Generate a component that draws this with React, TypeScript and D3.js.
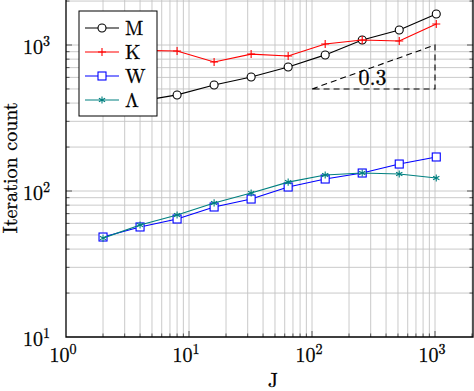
import React from 'react';
import * as d3 from 'd3';

// problem sizes J (powers of two)
const J = [2, 4, 8, 16, 32, 64, 128, 256, 512, 1024];

// iteration counts per method
const seriesM = [382, 413, 455, 532, 604, 707, 855, 1082, 1267, 1630];
const seriesK = [930, 920, 910, 765, 867, 841, 1016, 1082, 1065, 1393];
const seriesW = [48.4, 56.7, 64.3, 77.7, 88.1, 106.5, 120.8, 132.8, 153, 171];
const seriesL = [47.6, 58.5, 68.5, 82.8, 96.9, 115, 128.7, 132.8, 130.7, 122.8];

const seriesNames = ['M', 'K', 'W', 'Λ'];
const seriesColors = ['#000000', '#ff0000', '#0000ff', '#008080'];
const seriesMarks = ['circle', 'plus', 'square', 'star'];

const xTickExp = [0, 1, 2, 3];
const yTickExp = [1, 2, 3];

// slope triangle corners (J, count)
const triStart = [100, 500];
const triEnd = [1000, 1000];
const triLabel = '0.3';

const TXT = { fontFamily: "'Latin Modern Roman'", stroke: '#000', strokeWidth: 0.3 };

function Marker({ type, x, y, color }: { type: string; x: number; y: number; color: string }) {
  if (type === 'circle') return <circle cx={x} cy={y} r={4} fill="#fff" stroke={color} strokeWidth={1.1} />;
  if (type === 'square') return <rect x={x - 4} y={y - 4} width={8} height={8} fill="#fff" stroke={color} strokeWidth={1.1} />;
  if (type === 'plus')
    return (
      <path d={`M${x - 4},${y}H${x + 4}M${x},${y - 4}V${y + 4}`} stroke={color} strokeWidth={1.1} />
    );
  // asterisk
  const r = 3.6;
  const parts = [90, 30, -30].map(a => {
    const rad = (a * Math.PI) / 180;
    const dx = r * Math.cos(rad), dy = r * Math.sin(rad);
    return `M${x - dx},${y - dy}L${x + dx},${y + dy}`;
  });
  return <path d={parts.join('')} stroke={color} strokeWidth={1.1} />;
}

export default function App() {
  const x = d3.scaleLog().domain([1, 1000]).range([66, 435]);
  const y = d3.scaleLog().domain([10, 1000]).range([337, 45]);
  const left = 66, bottom = 337, right = 473, top = -1;
  const xMax = x.invert(right);
  const yMax = y.invert(top);

  const xGrid: number[] = [];
  for (let e = 0; e <= 3; e++) for (let m = 1; m <= 9; m++) { const v = m * 10 ** e; if (v > 1 && v < xMax) xGrid.push(v); }
  const yGrid: number[] = [];
  for (let e = 1; e <= 3; e++) for (let m = 1; m <= 9; m++) { const v = m * 10 ** e; if (v > 10 && v < yMax) yGrid.push(v); }

  const isMajor = (v: number) => Math.abs(Math.log10(v) - Math.round(Math.log10(v))) < 1e-9;

  const data = [seriesM, seriesK, seriesW, seriesL];
  const line = d3.line<[number, number]>().x(d => x(d[0])).y(d => y(d[1]));

  const lg = { x: 79, y: 11, w: 78, h: 105 };
  const lgRows = [28, 52, 76, 100];

  return (
    <svg width={474} height={391} style={{ position: 'absolute', left: 0, top: 0, background: '#fff' }}>
      {/* grid */}
      <g stroke="#c4c4c4" strokeWidth={0.9}>
        {xGrid.map(v => <line key={'gx' + v} x1={x(v)} x2={x(v)} y1={top} y2={bottom} />)}
        {yGrid.map(v => <line key={'gy' + v} x1={left} x2={right} y1={y(v)} y2={y(v)} />)}
      </g>
      {/* ticks */}
      <g stroke="#333" strokeWidth={0.8}>
        {xGrid.map(v => {
          const len = isMajor(v) ? 6 : 3.5;
          return <line key={'tx' + v} x1={x(v)} x2={x(v)} y1={bottom} y2={bottom - len} />;
        })}
        {yGrid.map(v => {
          const len = isMajor(v) ? 6 : 3.5;
          return (
            <g key={'ty' + v}>
              <line x1={left} x2={left + len} y1={y(v)} y2={y(v)} />
              <line x1={right} x2={right - len} y1={y(v)} y2={y(v)} />
            </g>
          );
        })}
      </g>
      {/* slope triangle */}
      <path
        d={`M${x(triStart[0])},${y(triStart[1])}L${x(triEnd[0])},${y(triEnd[1])}L${x(triEnd[0])},${y(triStart[1])}Z`}
        fill="none" stroke="#000" strokeWidth={1.1} strokeDasharray="6,4"
      />
      <text style={TXT} x={x(Math.sqrt(triStart[0] * triEnd[0])) - 1} y={y(triStart[1]) - 4} fontSize={22} textAnchor="middle">{triLabel}</text>
      {/* series */}
      {data.map((s, i) => {
        const pts = J.map((j, k) => [j, s[k]] as [number, number]);
        return (
          <g key={seriesNames[i]}>
            <path d={line(pts) || ''} fill="none" stroke={seriesColors[i]} strokeWidth={1.2} />
            {pts.map((p, k) => <Marker key={k} type={seriesMarks[i]} x={x(p[0])} y={y(p[1])} color={seriesColors[i]} />)}
          </g>
        );
      })}
      {/* axes frame */}
      <path d={`M${left},${top}V${bottom}H${right}V${top}`} fill="none" stroke="#000" strokeWidth={1.3} />
      {/* tick labels */}
      {xTickExp.map(e => (
        <text style={TXT} key={'xl' + e} x={x(10 ** e) - 3} y={362} fontSize={20} textAnchor="middle">
          10<tspan fontSize={14} dy={-8}>{e}</tspan>
        </text>
      ))}
      {yTickExp.map(e => (
        <text style={TXT} key={'yl' + e} x={50} y={y(10 ** e) + 9} fontSize={20} textAnchor="end">
          10<tspan fontSize={14} dy={-8}>{e}</tspan>
        </text>
      ))}
      {/* axis labels */}
      <text style={TXT} x={273} y={387} fontSize={20} textAnchor="middle">J</text>
      <text style={TXT} transform={`translate(17,${(top + bottom) / 2}) rotate(-90)`} fontSize={20} textAnchor="middle">Iteration count</text>
      {/* legend */}
      <rect x={lg.x} y={lg.y} width={lg.w} height={lg.h} fill="#fff" stroke="#000" strokeWidth={1} />
      {seriesNames.map((n, i) => (
        <g key={'lg' + n}>
          <line x1={85} x2={119} y1={lgRows[i]} y2={lgRows[i]} stroke={seriesColors[i]} strokeWidth={1.2} />
          <Marker type={seriesMarks[i]} x={102} y={lgRows[i]} color={seriesColors[i]} />
          <text style={TXT} x={125} y={lgRows[i] + 7} fontSize={20}>{n}</text>
        </g>
      ))}
    </svg>
  );
}
